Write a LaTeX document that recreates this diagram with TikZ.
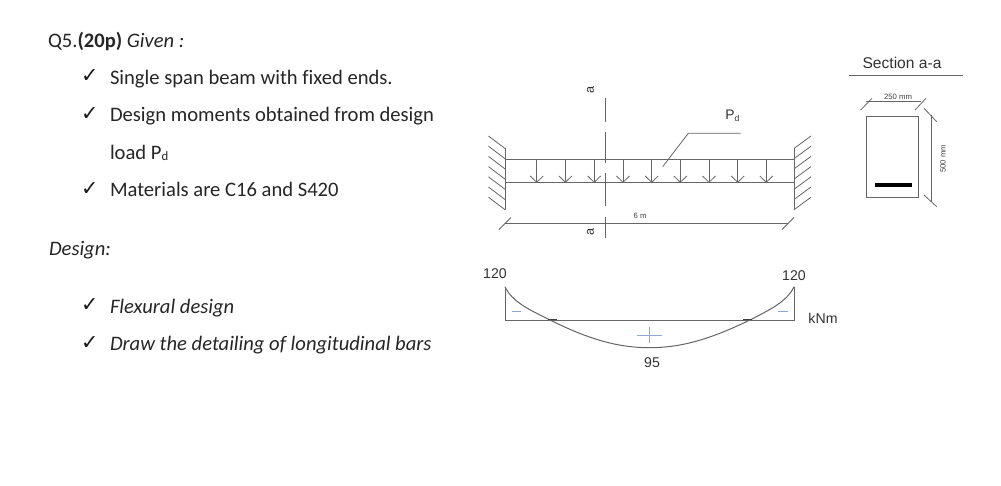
\documentclass[tikz,border=0pt]{standalone}
\usepackage{fontspec}
\setmainfont{Carlito}[Ligatures=NoCommon]
\newfontfamily\arial{Liberation Sans}
\newfontfamily\dejavu{DejaVu Sans}
\newcommand{\subd}[1]{\raisebox{-0.2ex}{\scalebox{0.62}{#1}}}
\definecolor{signblue}{HTML}{8EA6D8}
\tikzset{
  x=0.75pt,y=-0.75pt,
  body/.style={anchor=base west,inner sep=0pt,outer sep=0pt,font=\fontsize{15.45}{18}\selectfont,text=black!85},
  tick/.style={anchor=base west,inner sep=0pt,outer sep=0pt,font=\dejavu\fontsize{15.5}{18}\selectfont,text=black!90},
  lab/.style={inner sep=0pt,outer sep=0pt,font=\arial\fontsize{10.6}{12}\selectfont,text=black!80},
  tiny/.style={inner sep=0pt,outer sep=0pt,font=\arial\fontsize{5.8}{7}\selectfont,text=black!75},
  ln/.style={draw=black!60,line width=0.75pt},
  thin ln/.style={draw=black!60,line width=0.6pt},
  sign/.style={draw=signblue,line width=0.7pt},
}
\begin{document}
\begin{tikzpicture}
\useasboundingbox[fill=white] (0,0) rectangle (1001,486);
% text column
\node[body] (q) at (48,47.5) {Q5.\textbf{(20p)} \textit{Given :}};
\node[tick] (c1) at (81,82.5) {✓};
\node[body] (t1) at (110,84) {Single span beam with fixed ends.};
\node[tick] (c2) at (81,120) {✓};
\node[body] (t2) at (110,121.7) {Design moments obtained from design};
\node[body] (t3) at (110,159) {load P\subd{d}};
\node[tick] (c3) at (81,195) {✓};
\node[body] (t4) at (110,196.7) {Materials are C16 and S420};
\node[body] (d) at (49,255) {\textit{Design:}};
\node[tick] (c4) at (81,311.5) {✓};
\node[body] (t5) at (110,313) {\textit{Flexural design}};
\node[tick] (c5) at (81,349) {✓};
\node[body] (t6) at (110,350.5) {\textit{Draw the detailing of longitudinal bars}};
% beam
\draw[ln] (505,159.3) -- (794,159.3);
\draw[ln] (505,182.3) -- (794,182.3);
\draw[ln] (505,148) -- (505,210);
\draw[ln] (794,148) -- (794,210);
\foreach \i in {0,...,6}{
  \draw[thin ln] (488.5,136+10.2*\i) -- (505,148.5+10.2*\i);
  \draw[thin ln] (811,136+10.2*\i) -- (794,148.5+10.2*\i);
}
\foreach \xx in {536.7,565.4,594.2,623,651.7,680.3,709,737.7,766.3}{
  \draw[thin ln] (\xx,159.3) -- (\xx,182.3);
  \draw[thin ln] (\xx-6.5,176) -- (\xx,182.3) -- (\xx+6.5,176);
}
% section line
\fill[white] (601,163) rectangle (609,173);
\draw[ln] (605.4,98.3) -- (605.4,121.7);
\draw[ln] (605.4,131.7) -- (605.4,163);
\draw[ln] (605.4,173) -- (605.4,206);
\draw[ln] (605.4,216.7) -- (605.4,238);
\node[lab,rotate=90,font=\arial\fontsize{9.5}{11}\selectfont] (a1) at (590.5,90) {a};
\node[lab,rotate=90,font=\arial\fontsize{9.5}{11}\selectfont] (a2) at (590.5,231.7) {a};
% span dimension
\draw[thin ln] (505,223.3) -- (788,223.3);
\draw[thin ln] (499,229.5) -- (511,217.5);
\draw[thin ln] (782,229.5) -- (794,217.5);
\node[tiny] (six) at (640,215.5) {6 m};
% leader
\draw[thin ln] (662.7,166.7) -- (688.3,133.3) -- (740.7,133.3);
\node[lab,font=\arial\fontsize{10.4}{12}\selectfont] (pd) at (732.5,116) {P\subd{d}};
% moment diagram
\draw[ln] (505,286.7) -- (505,320) -- (794,320) -- (794,286.7);
\draw[ln] (505,286.7) .. controls (512,302) and (531,310.5) .. (548,319)
   .. controls (585,337.5) and (615,347.7) .. (649.5,347.7)
   .. controls (684,347.7) and (714,337.5) .. (752,319)
   .. controls (768,310.5) and (787,302) .. (794,286.7);
\draw[line width=1pt,black!75] (548,319.6) -- (557,319.6);
\draw[line width=1pt,black!75] (743,319.6) -- (752,319.6);
\draw[sign] (511.5,311) -- (520.5,311);
\draw[sign] (778,311) -- (788,311);
\draw[sign] (637,335) -- (662,335);
\draw[sign] (649.5,327) -- (649.5,343);
\node[lab] (m1) at (495,274) {120};
\node[lab] (m2) at (794,276) {120};
\node[lab] (m3) at (823,318) {kNm};
\node[lab] (m4) at (652,363) {95};
% section a-a
\node[lab,font=\arial\fontsize{11.7}{13}\selectfont] (sec) at (902,63) {Section a-a};
\draw[ln] (849,75.7) -- (963,75.7);
\draw[ln] (866,116.7) rectangle (918.3,197.3);
\draw[line width=2.4pt,black] (875,185) -- (912.3,185);
\draw[thin ln] (866,101.7) -- (921,101.7);
\draw[thin ln] (860.7,110) -- (872,98.3);
\draw[thin ln] (915,110) -- (926,98.3);
\draw[thin ln] (931.7,115) -- (931.7,202);
\draw[thin ln] (924,108.3) -- (936.7,121.7);
\draw[thin ln] (924,195) -- (936.7,206.7);
\node[tiny] (w) at (898,96.5) {250 mm};
\node[tiny,rotate=90] (h) at (943,159) {500 mm};
\end{tikzpicture}
\end{document}
